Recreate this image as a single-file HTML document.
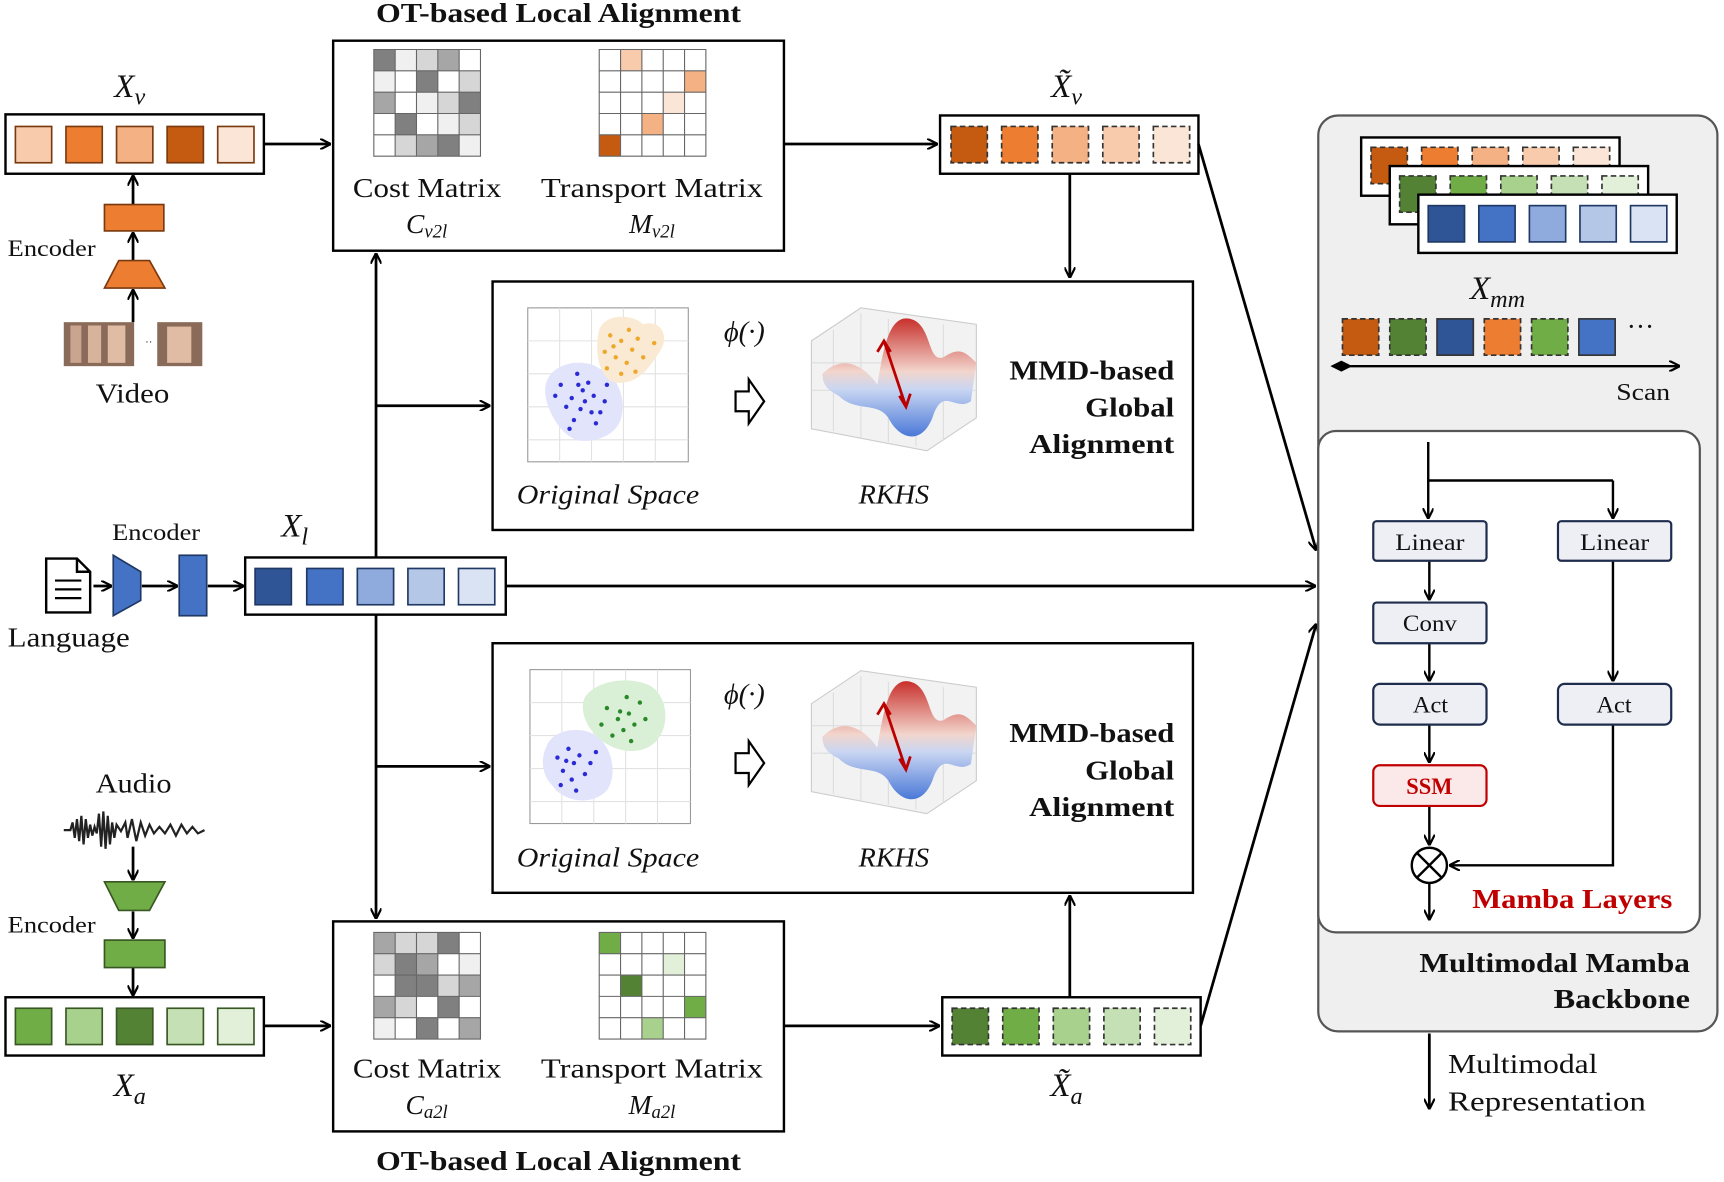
<!DOCTYPE html>
<html><head><meta charset="utf-8"><style>
html,body{margin:0;padding:0;background:#fff}
svg{display:block}
text{font-family:"Liberation Serif",serif;fill:#111}
.t{font-size:25px}
.b{font-weight:bold}
.i{font-style:italic}
</style></head><body>
<svg width="1724" height="1182" viewBox="0 0 1568 1075" xmlns="http://www.w3.org/2000/svg">
<defs>
<marker id="ar" markerWidth="10" markerHeight="10" refX="9" refY="5" orient="auto" markerUnits="userSpaceOnUse" viewBox="0 0 10 10">
<path d="M0,0 L10,5 L0,10" fill="none" stroke="#000" stroke-width="2"/></marker>
<g id="grid">
<path d="M0,0H97V97H0Z M19.4,0V97 M38.8,0V97 M58.2,0V97 M77.6,0V97 M0,19.4H97 M0,38.8H97 M0,58.2H97 M0,77.6H97" fill="none" stroke="#666" stroke-width="1"/>
</g>
<linearGradient id="sg" x1="0" y1="0" x2="0" y2="1">
<stop offset="0" stop-color="#c8302c"/><stop offset="0.45" stop-color="#f2d5cc"/><stop offset="0.6" stop-color="#c9d6f2"/><stop offset="1" stop-color="#4a78d8"/></linearGradient>
<g id="surf">
<path d="M0,30 L45,0 L150,15 L150,100 L105,130 L0,110Z" fill="#f2f2f2" stroke="#ccc"/>
<path d="M20,20V112 M45,5V118 M70,10V122 M95,12V126 M120,15V120 M0,50H150 M0,75H150" stroke="#ddd" fill="none"/>
<path d="M10,60 C30,40 50,55 60,70 C65,40 70,5 90,10 C110,15 105,50 120,45 C135,35 140,40 150,50 L145,85 C130,95 120,70 110,100 C100,125 80,120 70,100 C60,85 40,95 25,80 C15,75 10,70 10,60Z" fill="url(#sg)"/>
<line x1="66" y1="30" x2="86" y2="90" stroke="#b00" stroke-width="2.5"/>
<path d="M60,40 L66,30 L72,40 M80,80 L86,90 L90,78" stroke="#b00" stroke-width="2.5" fill="none"/>
</g>
<path id="harrow" d="M0,-9 H12 V-20 L26,0 L12,20 V9 H0Z" fill="#fff" stroke="#000" stroke-width="2"/>
</defs>

<g stroke="#000" stroke-width="2.2" fill="none">
<rect x="303" y="37" width="410" height="191"/>
<rect x="303" y="838" width="410" height="191"/>
<rect x="448" y="256" width="637" height="226"/>
<rect x="448" y="585" width="637" height="227"/>
<rect x="5" y="104" width="235" height="54"/>
<rect x="855" y="105" width="235" height="53"/>
<rect x="223" y="507" width="237" height="52"/>
<rect x="5" y="907" width="235" height="53"/>
<rect x="857" y="907" width="235" height="53"/>
</g>

<g stroke="#000" stroke-width="2.5" fill="none" marker-end="url(#ar)">
<line x1="240" y1="131" x2="300" y2="131"/>
<line x1="713" y1="131" x2="852" y2="131"/>
<line x1="973" y1="158" x2="973" y2="252"/>
<line x1="460" y1="533" x2="1196" y2="533"/>
<line x1="342" y1="507" x2="342" y2="231"/>
<line x1="342" y1="559" x2="342" y2="835"/>
<line x1="342" y1="369" x2="445" y2="369"/>
<line x1="342" y1="697" x2="445" y2="697"/>
<line x1="240" y1="933" x2="300" y2="933"/>
<line x1="713" y1="933" x2="854" y2="933"/>
<line x1="973" y1="907" x2="973" y2="815"/>
<line x1="1090" y1="131" x2="1197" y2="500"/>
<line x1="1092" y1="933" x2="1197" y2="568"/>
<line x1="121" y1="186" x2="121" y2="160"/>
<line x1="121" y1="237" x2="121" y2="212"/>
<line x1="121" y1="293" x2="121" y2="264"/>
<line x1="85" y1="533" x2="101" y2="533"/>
<line x1="129" y1="533" x2="161" y2="533"/>
<line x1="189" y1="533" x2="221" y2="533"/>
<line x1="121" y1="770" x2="121" y2="800"/>
<line x1="121" y1="829" x2="121" y2="853"/>
<line x1="121" y1="880" x2="121" y2="905"/>
<line x1="1300" y1="940" x2="1300" y2="1008"/>
</g>

<text x="342" y="20" class="t b" textLength="332" lengthAdjust="spacingAndGlyphs">OT-based Local Alignment</text>
<text x="342" y="1064" class="t b" textLength="332" lengthAdjust="spacingAndGlyphs">OT-based Local Alignment</text>

<g transform="translate(340,45)">
<rect x="0" y="0" width="19.4" height="19.4" fill="#808080"/><rect x="19.4" y="0" width="19.4" height="19.4" fill="#f0f0f0"/><rect x="38.8" y="0" width="19.4" height="19.4" fill="#d6d6d6"/><rect x="58.2" y="0" width="19.4" height="19.4" fill="#a6a6a6"/>
<rect x="0" y="19.4" width="19.4" height="19.4" fill="#f0f0f0"/><rect x="38.8" y="19.4" width="19.4" height="19.4" fill="#808080"/><rect x="77.6" y="19.4" width="19.4" height="19.4" fill="#d6d6d6"/>
<rect x="0" y="38.8" width="19.4" height="19.4" fill="#a6a6a6"/><rect x="38.8" y="38.8" width="19.4" height="19.4" fill="#f0f0f0"/><rect x="58.2" y="38.8" width="19.4" height="19.4" fill="#d6d6d6"/><rect x="77.6" y="38.8" width="19.4" height="19.4" fill="#808080"/>
<rect x="19.4" y="58.2" width="19.4" height="19.4" fill="#808080"/><rect x="58.2" y="58.2" width="19.4" height="19.4" fill="#f0f0f0"/><rect x="77.6" y="58.2" width="19.4" height="19.4" fill="#d6d6d6"/>
<rect x="19.4" y="77.6" width="19.4" height="19.4" fill="#d6d6d6"/><rect x="38.8" y="77.6" width="19.4" height="19.4" fill="#a6a6a6"/><rect x="58.2" y="77.6" width="19.4" height="19.4" fill="#808080"/><rect x="77.6" y="77.6" width="19.4" height="19.4" fill="#f0f0f0"/>
<use href="#grid"/></g>
<g transform="translate(545,45)">
<rect x="19.4" y="0" width="19.4" height="19.4" fill="#f8cbad"/><rect x="77.6" y="19.4" width="19.4" height="19.4" fill="#f4b183"/><rect x="58.2" y="38.8" width="19.4" height="19.4" fill="#fbe5d6"/><rect x="38.8" y="58.2" width="19.4" height="19.4" fill="#f4b183"/><rect x="0" y="77.6" width="19.4" height="19.4" fill="#c55a11"/>
<use href="#grid"/></g>
<text x="321" y="179" class="t" textLength="135" lengthAdjust="spacingAndGlyphs">Cost Matrix</text>
<text x="492" y="179" class="t" textLength="202" lengthAdjust="spacingAndGlyphs">Transport Matrix</text>
<text x="388" y="212" text-anchor="middle" class="t i">C<tspan font-size="17" dy="4">v2l</tspan></text>
<text x="593" y="212" text-anchor="middle" class="t i">M<tspan font-size="17" dy="4">v2l</tspan></text>

<g transform="translate(340,848)">
<rect x="0" y="0" width="19.4" height="19.4" fill="#a6a6a6"/><rect x="19.4" y="0" width="19.4" height="19.4" fill="#d6d6d6"/><rect x="38.8" y="0" width="19.4" height="19.4" fill="#d6d6d6"/><rect x="58.2" y="0" width="19.4" height="19.4" fill="#808080"/>
<rect x="0" y="19.4" width="19.4" height="19.4" fill="#d6d6d6"/><rect x="19.4" y="19.4" width="19.4" height="19.4" fill="#808080"/><rect x="38.8" y="19.4" width="19.4" height="19.4" fill="#a6a6a6"/><rect x="77.6" y="19.4" width="19.4" height="19.4" fill="#f0f0f0"/>
<rect x="19.4" y="38.8" width="19.4" height="19.4" fill="#808080"/><rect x="38.8" y="38.8" width="19.4" height="19.4" fill="#808080"/><rect x="58.2" y="38.8" width="19.4" height="19.4" fill="#d6d6d6"/><rect x="77.6" y="38.8" width="19.4" height="19.4" fill="#a6a6a6"/>
<rect x="0" y="58.2" width="19.4" height="19.4" fill="#a6a6a6"/><rect x="19.4" y="58.2" width="19.4" height="19.4" fill="#d6d6d6"/><rect x="58.2" y="58.2" width="19.4" height="19.4" fill="#808080"/>
<rect x="38.8" y="77.6" width="19.4" height="19.4" fill="#808080"/><rect x="77.6" y="77.6" width="19.4" height="19.4" fill="#a6a6a6"/><rect x="0" y="77.6" width="19.4" height="19.4" fill="#f0f0f0"/>
<use href="#grid"/></g>
<g transform="translate(545,848)">
<rect x="0" y="0" width="19.4" height="19.4" fill="#70ad47"/><rect x="58.2" y="19.4" width="19.4" height="19.4" fill="#e2f0d9"/><rect x="19.4" y="38.8" width="19.4" height="19.4" fill="#548235"/><rect x="77.6" y="58.2" width="19.4" height="19.4" fill="#70ad47"/><rect x="38.8" y="77.6" width="19.4" height="19.4" fill="#a9d18e"/>
<use href="#grid"/></g>
<text x="321" y="980" class="t" textLength="135" lengthAdjust="spacingAndGlyphs">Cost Matrix</text>
<text x="492" y="980" class="t" textLength="202" lengthAdjust="spacingAndGlyphs">Transport Matrix</text>
<text x="388" y="1013" text-anchor="middle" class="t i">C<tspan font-size="17" dy="4">a2l</tspan></text>
<text x="593" y="1013" text-anchor="middle" class="t i">M<tspan font-size="17" dy="4">a2l</tspan></text>

<g stroke="#7a3a10" stroke-width="1.5">
<rect x="14" y="115" width="33" height="33" fill="#f8cbad"/><rect x="60" y="115" width="33" height="33" fill="#ed7d31"/><rect x="106" y="115" width="33" height="33" fill="#f4b183"/><rect x="152" y="115" width="33" height="33" fill="#c55a11"/><rect x="198" y="115" width="33" height="33" fill="#fbe5d6"/>
</g>
<g stroke="#333" stroke-width="1.5" stroke-dasharray="5,3">
<rect x="865" y="115" width="33" height="33" fill="#c55a11"/><rect x="911" y="115" width="33" height="33" fill="#ed7d31"/><rect x="957" y="115" width="33" height="33" fill="#f4b183"/><rect x="1003" y="115" width="33" height="33" fill="#f8cbad"/><rect x="1049" y="115" width="33" height="33" fill="#fbe5d6"/>
</g>
<text x="118" y="88" text-anchor="middle" class="i" font-size="30">X<tspan font-size="22" dy="7">v</tspan></text>
<text x="970" y="88" text-anchor="middle" class="i" font-size="30">X̃<tspan font-size="22" dy="7">v</tspan></text>

<rect x="95" y="186" width="54" height="24" fill="#ed7d31" stroke="#7a3a10" stroke-width="1.5"/>
<path d="M108,237 H136 L150,262 H95Z" fill="#ed7d31" stroke="#7a3a10" stroke-width="1.5"/>
<text x="7" y="233" font-size="21" textLength="80" lengthAdjust="spacingAndGlyphs">Encoder</text>
<rect x="58" y="293" width="64" height="40" fill="#8a6a58"/><rect x="64" y="296" width="10" height="34" fill="#c9a48f"/><rect x="80" y="296" width="12" height="34" fill="#d7b39c"/><rect x="98" y="296" width="16" height="34" fill="#e0bca5"/>
<rect x="143" y="293" width="41" height="40" fill="#8a6a58"/><rect x="152" y="297" width="22" height="33" fill="#e0bca5"/>
<text x="132" y="314" font-size="10">··</text>
<text x="87" y="366" class="t" textLength="67" lengthAdjust="spacingAndGlyphs">Video</text>

<path d="M42,508 H70 L82,520 V557 H42Z M70,508 V520 H82" fill="#fff" stroke="#000" stroke-width="2.2"/>
<path d="M50,528 H74 M50,536 H74 M50,544 H74" stroke="#000" stroke-width="2"/>
<text x="7" y="588" class="t" textLength="111" lengthAdjust="spacingAndGlyphs">Language</text>
<text x="102" y="491" font-size="21" textLength="80" lengthAdjust="spacingAndGlyphs">Encoder</text>
<path d="M103,505 L128,520 V546 L103,560Z" fill="#4472c4" stroke="#203864" stroke-width="1.5"/>
<rect x="163" y="505" width="25" height="55" fill="#4472c4" stroke="#203864" stroke-width="1.5"/>
<g stroke="#1f3864" stroke-width="1.5">
<rect x="232" y="517" width="33" height="33" fill="#2f5597"/><rect x="279" y="517" width="33" height="33" fill="#4472c4"/><rect x="325" y="517" width="33" height="33" fill="#8faadc"/><rect x="371" y="517" width="33" height="33" fill="#b4c7e7"/><rect x="417" y="517" width="33" height="33" fill="#dae3f3"/>
</g>
<text x="268" y="488" text-anchor="middle" class="i" font-size="30">X<tspan font-size="22" dy="7">l</tspan></text>

<text x="87" y="721" class="t" textLength="69" lengthAdjust="spacingAndGlyphs">Audio</text>
<path d="M58,755 H64 L66,748 L68,762 L70,745 L72,765 L74,742 L76,768 L78,745 L80,762 L82,750 L84,760 L86,752 L88,758 L90,740 L92,770 L94,738 L96,772 L98,742 L100,768 L102,748 L104,762 L106,750 L110,756 L114,748 L116,762 L120,745 L124,765 L128,748 L132,760 L136,750 L140,758 L145,752 L150,758 L155,750 L160,760 L165,750 L170,758 L175,752 L180,758 L186,755" fill="none" stroke="#222" stroke-width="2"/>
<path d="M95,802 H150 L136,828 H108Z" fill="#70ad47" stroke="#385723" stroke-width="1.5"/>
<rect x="95" y="855" width="55" height="25" fill="#70ad47" stroke="#385723" stroke-width="1.5"/>
<text x="7" y="848" font-size="21" textLength="80" lengthAdjust="spacingAndGlyphs">Encoder</text>
<g stroke="#385723" stroke-width="1.5">
<rect x="14" y="917" width="33" height="33" fill="#70ad47"/><rect x="60" y="917" width="33" height="33" fill="#a9d18e"/><rect x="106" y="917" width="33" height="33" fill="#548235"/><rect x="152" y="917" width="33" height="33" fill="#c5e0b4"/><rect x="198" y="917" width="33" height="33" fill="#e2f0d9"/>
</g>
<g stroke="#333" stroke-width="1.5" stroke-dasharray="5,3">
<rect x="866" y="917" width="33" height="33" fill="#548235"/><rect x="912" y="917" width="33" height="33" fill="#70ad47"/><rect x="958" y="917" width="33" height="33" fill="#a9d18e"/><rect x="1004" y="917" width="33" height="33" fill="#c5e0b4"/><rect x="1050" y="917" width="33" height="33" fill="#e2f0d9"/>
</g>
<text x="118" y="997" text-anchor="middle" class="i" font-size="30">X<tspan font-size="22" dy="7">a</tspan></text>
<text x="970" y="997" text-anchor="middle" class="i" font-size="30">X̃<tspan font-size="22" dy="7">a</tspan></text>

<g transform="translate(480,280)">
<rect width="146" height="140" fill="#fff" stroke="#999"/>
<path d="M29,0V140 M58,0V140 M87,0V140 M116,0V140 M0,30H146 M0,60H146 M0,90H146 M0,120H146" stroke="#e2e2e2"/>
<path d="M18,65 C25,50 50,45 65,55 C80,60 90,80 85,100 C80,120 50,125 40,118 C25,110 10,80 18,65Z" fill="#e2e4fb"/>
<path d="M65,20 C70,5 95,5 105,15 C120,10 130,25 120,40 C110,55 100,70 80,68 C65,65 60,40 65,20Z" fill="#fbead3"/>
<g fill="#2b2bd6"><circle cx="30" cy="70" r="2"/><circle cx="45" cy="60" r="2"/><circle cx="50" cy="75" r="2"/><circle cx="40" cy="82" r="2"/><circle cx="55" cy="68" r="2"/><circle cx="60" cy="80" r="2"/><circle cx="35" cy="90" r="2"/><circle cx="48" cy="92" r="2"/><circle cx="58" cy="95" r="2"/><circle cx="70" cy="85" r="2"/><circle cx="42" cy="102" r="2"/><circle cx="62" cy="105" r="2"/><circle cx="52" cy="85" r="2"/><circle cx="25" cy="80" r="2"/><circle cx="72" cy="70" r="2"/><circle cx="38" cy="110" r="2"/><circle cx="66" cy="95" r="2"/><circle cx="46" cy="70" r="2"/></g>
<g fill="#eda72a"><circle cx="75" cy="25" r="2"/><circle cx="85" cy="30" r="2"/><circle cx="95" cy="38" r="2"/><circle cx="80" cy="45" r="2"/><circle cx="90" cy="50" r="2"/><circle cx="100" cy="28" r="2"/><circle cx="72" cy="55" r="2"/><circle cx="105" cy="45" r="2"/><circle cx="85" cy="60" r="2"/><circle cx="115" cy="32" r="2"/><circle cx="78" cy="35" r="2"/><circle cx="92" cy="20" r="2"/><circle cx="98" cy="58" r="2"/><circle cx="70" cy="40" r="2"/></g>
</g>
<text x="677" y="310" text-anchor="middle" class="i" font-size="26">ϕ(·)</text>
<use href="#harrow" transform="translate(669,365)"/>
<use href="#surf" transform="translate(738,280)"/>
<text x="470" y="458" class="t i" textLength="166" lengthAdjust="spacingAndGlyphs">Original Space</text>
<text x="781" y="458" class="t i" textLength="64" lengthAdjust="spacingAndGlyphs">RKHS</text>
<text x="918" y="345" class="t b" textLength="150" lengthAdjust="spacingAndGlyphs">MMD-based</text>
<text x="987" y="379" class="t b" textLength="81" lengthAdjust="spacingAndGlyphs">Global</text>
<text x="936" y="412" class="t b" textLength="132" lengthAdjust="spacingAndGlyphs">Alignment</text>

<g transform="translate(482,609)">
<rect width="146" height="140" fill="#fff" stroke="#999"/>
<path d="M29,0V140 M58,0V140 M87,0V140 M116,0V140 M0,30H146 M0,60H146 M0,90H146 M0,120H146" stroke="#e2e2e2"/>
<path d="M15,70 C20,55 45,50 60,60 C75,70 80,95 70,110 C55,125 30,120 20,105 C10,95 10,80 15,70Z" fill="#e2e4fb"/>
<path d="M50,25 C60,10 90,5 110,15 C125,25 128,50 115,65 C100,80 75,75 60,60 C50,50 45,35 50,25Z" fill="#d9f0d6"/>
<g fill="#2b2bd6"><circle cx="25" cy="80" r="2"/><circle cx="35" cy="72" r="2"/><circle cx="40" cy="85" r="2"/><circle cx="30" cy="92" r="2"/><circle cx="45" cy="78" r="2"/><circle cx="50" cy="95" r="2"/><circle cx="38" cy="100" r="2"/><circle cx="55" cy="85" r="2"/><circle cx="28" cy="105" r="2"/><circle cx="60" cy="75" r="2"/><circle cx="42" cy="110" r="2"/><circle cx="33" cy="83" r="2"/></g>
<g fill="#2a8a2a"><circle cx="70" cy="35" r="2"/><circle cx="80" cy="45" r="2"/><circle cx="90" cy="40" r="2"/><circle cx="85" cy="55" r="2"/><circle cx="95" cy="50" r="2"/><circle cx="75" cy="60" r="2"/><circle cx="100" cy="30" r="2"/><circle cx="88" cy="25" r="2"/><circle cx="105" cy="45" r="2"/><circle cx="65" cy="50" r="2"/><circle cx="92" cy="65" r="2"/><circle cx="82" cy="38" r="2"/></g>
</g>
<text x="677" y="640" text-anchor="middle" class="i" font-size="26">ϕ(·)</text>
<use href="#harrow" transform="translate(669,694)"/>
<use href="#surf" transform="translate(738,610)"/>
<text x="470" y="788" class="t i" textLength="166" lengthAdjust="spacingAndGlyphs">Original Space</text>
<text x="781" y="788" class="t i" textLength="64" lengthAdjust="spacingAndGlyphs">RKHS</text>
<text x="918" y="675" class="t b" textLength="150" lengthAdjust="spacingAndGlyphs">MMD-based</text>
<text x="987" y="709" class="t b" textLength="81" lengthAdjust="spacingAndGlyphs">Global</text>
<text x="936" y="742" class="t b" textLength="132" lengthAdjust="spacingAndGlyphs">Alignment</text>

<rect x="1199" y="105" width="363" height="833" rx="18" fill="#efefef" stroke="#555" stroke-width="2"/>
<rect x="1199" y="392" width="347" height="456" rx="16" fill="#fff" stroke="#555" stroke-width="2"/>
<rect x="1238" y="125" width="235" height="53" fill="#fff" stroke="#000" stroke-width="2.2"/>
<g stroke="#333" stroke-width="1.5" stroke-dasharray="5,3"><rect x="1247" y="134" width="33" height="33" fill="#c55a11"/><rect x="1293" y="134" width="33" height="33" fill="#ed7d31"/><rect x="1339" y="134" width="33" height="33" fill="#f4b183"/><rect x="1385" y="134" width="33" height="33" fill="#f8cbad"/><rect x="1431" y="134" width="33" height="33" fill="#fbe5d6"/></g>
<rect x="1264" y="151" width="235" height="53" fill="#fff" stroke="#000" stroke-width="2.2"/>
<g stroke="#333" stroke-width="1.5" stroke-dasharray="5,3"><rect x="1273" y="160" width="33" height="33" fill="#548235"/><rect x="1319" y="160" width="33" height="33" fill="#70ad47"/><rect x="1365" y="160" width="33" height="33" fill="#a9d18e"/><rect x="1411" y="160" width="33" height="33" fill="#c5e0b4"/><rect x="1457" y="160" width="33" height="33" fill="#e2f0d9"/></g>
<rect x="1290" y="177" width="235" height="53" fill="#fff" stroke="#000" stroke-width="2.2"/>
<g stroke="#1f3864" stroke-width="1.5"><rect x="1299" y="187" width="33" height="33" fill="#2f5597"/><rect x="1345" y="187" width="33" height="33" fill="#4472c4"/><rect x="1391" y="187" width="33" height="33" fill="#8faadc"/><rect x="1437" y="187" width="33" height="33" fill="#b4c7e7"/><rect x="1483" y="187" width="33" height="33" fill="#dae3f3"/></g>
<text x="1362" y="272" text-anchor="middle" class="i" font-size="30">X<tspan font-size="22" dy="7">mm</tspan></text>
<g stroke-width="1.5" stroke-dasharray="5,3" stroke="#333">
<rect x="1221" y="290" width="33" height="33" fill="#c55a11"/><rect x="1264" y="290" width="33" height="33" fill="#548235"/>
<rect x="1307" y="290" width="33" height="33" fill="#2f5597" stroke-dasharray="none"/><rect x="1350" y="290" width="33" height="33" fill="#ed7d31"/><rect x="1393" y="290" width="33" height="33" fill="#70ad47"/><rect x="1436" y="290" width="33" height="33" fill="#4472c4" stroke-dasharray="none"/></g>
<text x="1492" y="305" text-anchor="middle" class="t">···</text>
<line x1="1212" y1="333" x2="1527" y2="333" stroke="#000" stroke-width="2.2" marker-end="url(#ar)"/>
<path d="M1210,333 L1220,328 L1230,333 L1220,338Z" fill="#000"/>
<text x="1470" y="364" font-size="22" textLength="49" lengthAdjust="spacingAndGlyphs">Scan</text>

<g stroke="#000" stroke-width="2.2" fill="none">
<path d="M1299,402 V437 H1467"/>
</g>
<g stroke="#000" stroke-width="2.2" fill="none" marker-end="url(#ar)">
<line x1="1299" y1="437" x2="1299" y2="471"/>
<line x1="1467" y1="437" x2="1467" y2="471"/>
<line x1="1300" y1="510" x2="1300" y2="545"/>
<line x1="1300" y1="585" x2="1300" y2="619"/>
<line x1="1300" y1="659" x2="1300" y2="693"/>
<line x1="1300" y1="733" x2="1300" y2="768"/>
<line x1="1467" y1="510" x2="1467" y2="619"/>
<path d="M1467,659 V787 H1319"/>
<line x1="1300" y1="803" x2="1300" y2="836"/>
</g>
<g stroke="#1f2d4d" stroke-width="2" fill="#edeff5">
<rect x="1249" y="474" width="103" height="36" rx="3"/>
<rect x="1417" y="474" width="103" height="36" rx="3"/>
<rect x="1249" y="548" width="103" height="37" rx="3"/>
<rect x="1249" y="622" width="103" height="37" rx="6"/>
<rect x="1417" y="622" width="103" height="37" rx="6"/>
</g>
<rect x="1249" y="696" width="103" height="37" rx="6" fill="#fbe9e9" stroke="#c00000" stroke-width="2"/>
<text x="1269" y="500" font-size="21" textLength="63" lengthAdjust="spacingAndGlyphs">Linear</text>
<text x="1437" y="500" font-size="21" textLength="63" lengthAdjust="spacingAndGlyphs">Linear</text>
<text x="1276" y="574" font-size="21" textLength="49" lengthAdjust="spacingAndGlyphs">Conv</text>
<text x="1285" y="648" font-size="21" textLength="32" lengthAdjust="spacingAndGlyphs">Act</text>
<text x="1452" y="648" font-size="21" textLength="32" lengthAdjust="spacingAndGlyphs">Act</text>
<text x="1279" y="722" font-size="21" font-weight="bold" style="fill:#c00000" textLength="42" lengthAdjust="spacingAndGlyphs">SSM</text>
<circle cx="1300" cy="787" r="16" fill="#fff" stroke="#000" stroke-width="2.2"/>
<path d="M1289,776 L1311,798 M1311,776 L1289,798" stroke="#000" stroke-width="2.2"/>
<text x="1339" y="826" class="t b" style="fill:#c00000" textLength="182" lengthAdjust="spacingAndGlyphs">Mamba Layers</text>
<text x="1291" y="884" class="t b" textLength="246" lengthAdjust="spacingAndGlyphs">Multimodal Mamba</text>
<text x="1413" y="917" class="t b" textLength="124" lengthAdjust="spacingAndGlyphs">Backbone</text>
<text x="1317" y="976" class="t" textLength="136" lengthAdjust="spacingAndGlyphs">Multimodal</text>
<text x="1317" y="1010" class="t" textLength="180" lengthAdjust="spacingAndGlyphs">Representation</text>
</svg>
</body></html>
